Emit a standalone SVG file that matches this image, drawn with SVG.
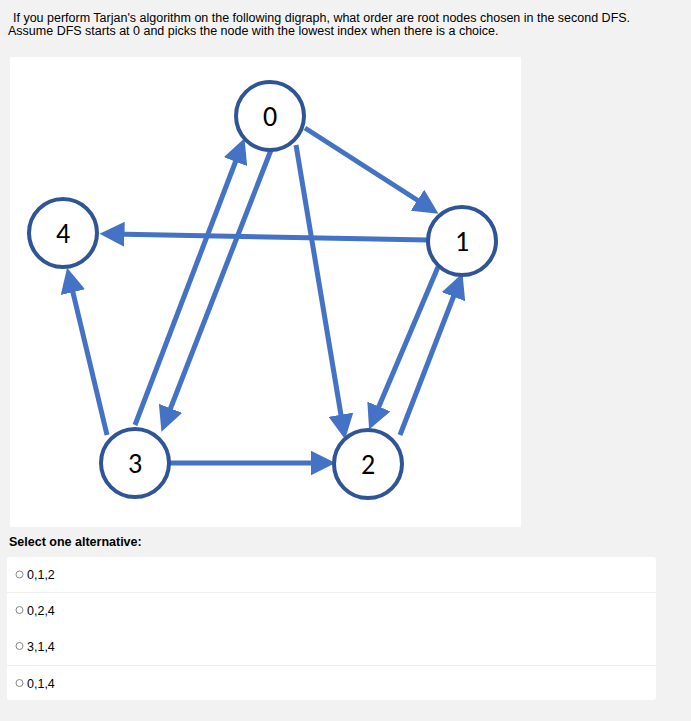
<svg xmlns="http://www.w3.org/2000/svg" width="691" height="721" viewBox="0 0 691 721">
<style>
.t{font-family:"Liberation Sans",Arial,sans-serif;font-size:12.5px;fill:#000}
.e{stroke:#4472C4;stroke-width:5;fill:none;marker-end:url(#a)}
.n circle{fill:#fff;stroke:#2F5597;stroke-width:4}
.n text{font-family:Carlito,"Liberation Sans",sans-serif;font-size:28px;text-anchor:middle;fill:#000}
.r{fill:#fff;stroke:#888;stroke-width:1}
</style>
<defs><marker id="a" markerWidth="5" markerHeight="5" refX="2.5" refY="2.5" orient="auto" markerUnits="strokeWidth"><path d="M0,0L5,2.5L0,5z" fill="#4472C4"/></marker></defs>
<rect width="691" height="721" fill="#f2f2f2"/>
<text class="t" x="13" y="22">If you perform Tarjan's algorithm on the following digraph, what order are root nodes chosen in the second DFS.</text>
<text class="t" x="8" y="35">Assume DFS starts at 0 and picks the node with the lowest index when there is a choice.</text>
<rect x="10" y="57" width="511" height="470" fill="#fff"/>
<g id="connectors">
<line class="e" x1="305" y1="128" x2="428" y2="207"/>
<line class="e" x1="428" y1="240" x2="112" y2="234"/>
<line class="e" x1="107" y1="435" x2="70" y2="280"/>
<line class="e" x1="135" y1="425" x2="240" y2="150"/>
<line class="e" x1="271" y1="150" x2="166" y2="420"/>
<line class="e" x1="296" y1="145" x2="343" y2="427"/>
<line class="e" x1="170" y1="463" x2="323" y2="463"/>
<line class="e" x1="438" y1="267" x2="374" y2="418"/>
<line class="e" x1="400" y1="435" x2="458" y2="285"/>
</g>
<g id="n0" class="n"><circle cx="270" cy="116" r="34"/><text x="270" y="126">0</text></g>
<g id="n1" class="n"><circle cx="462" cy="241" r="34"/><text x="462" y="251">1</text></g>
<g id="n2" class="n"><circle cx="368" cy="464" r="34"/><text x="368" y="474">2</text></g>
<g id="n3" class="n"><circle cx="135" cy="463" r="34"/><text x="135" y="473">3</text></g>
<g id="n4" class="n"><circle cx="63" cy="233" r="34"/><text x="63" y="243">4</text></g>
<text class="t" x="9" y="546" font-weight="bold">Select one alternative:</text>
<rect x="7" y="557" width="649" height="143" rx="3" fill="#fff"/>
<line x1="7" y1="592.5" x2="656" y2="592.5" stroke="#eee"/>
<line x1="7" y1="665.5" x2="656" y2="665.5" stroke="#eee"/>
<circle class="r" cx="19.5" cy="574.5" r="3.5"/><text class="t" x="27" y="579">0,1,2</text>
<circle class="r" cx="19.5" cy="610" r="3.5"/><text class="t" x="27" y="614.5">0,2,4</text>
<circle class="r" cx="19.5" cy="646" r="3.5"/><text class="t" x="27" y="651">3,1,4</text>
<circle class="r" cx="19.5" cy="683" r="3.5"/><text class="t" x="27" y="687.5">0,1,4</text>
</svg>
